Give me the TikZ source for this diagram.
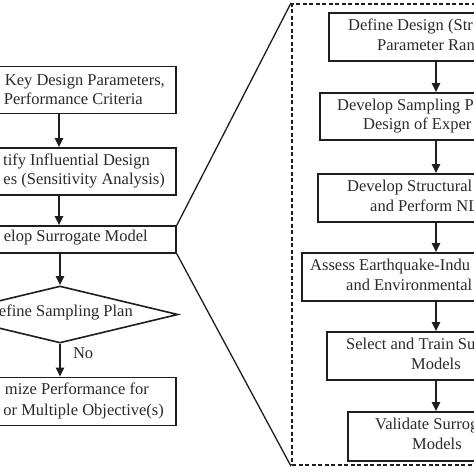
\documentclass[tikz,border=0pt]{standalone}
\usepackage{fontspec}
\setmainfont{Liberation Serif}
\usetikzlibrary{arrows.meta,shapes.geometric}
\definecolor{ink}{HTML}{1E1E1E}
\definecolor{txt}{HTML}{2A2A2A}
\tikzset{
  box/.style={draw=ink, line width=1.6pt, fill=white, inner sep=0pt},
  choice/.style={draw=ink, line width=1.6pt, shape=diamond, inner sep=0pt},
  lbl/.style={font=\fontsize{16.5}{20}\selectfont, text=txt, inner sep=0pt},
  arr/.style={draw=ink, line width=2pt, -{Triangle[length=9pt,width=8pt]}},
  zoomline/.style={draw=ink, line width=1.3pt},
  dashbox/.style={draw=ink, line width=2.2pt, dash pattern=on 4pt off 2.5pt}
}
\begin{document}
\begin{tikzpicture}[x=1pt,y=-1pt]
\clip (0,0) rectangle (474,474);
\fill[white] (0,0) rectangle (474,474);
% zoom frame
\node[dashbox, minimum width=300pt, minimum height=461pt, anchor=north west, inner sep=0pt] (frame) at (291,3) {};
% left column
\node[box, minimum width=234pt, minimum height=47pt] (b1) at (59,90) {};
\node[box, minimum width=234pt, minimum height=47pt] (b2) at (59,171.5) {};
\node[box, minimum width=234pt, minimum height=27pt] (b3) at (59,239.5) {};
\node[choice, minimum width=236pt, minimum height=57pt] (dia) at (60,314.5) {};
\node[box, minimum width=234pt, minimum height=48pt] (b4) at (59,401.5) {};
\node[lbl, anchor=mid east] (t1a) at (165,83) {Key Design Parameters,};
\node[lbl, anchor=mid east] (t1b) at (143,102) {Performance Criteria};
\node[lbl, anchor=mid east] (t2a) at (150,163) {tify Influential Design};
\node[lbl, anchor=mid east] (t2b) at (165,182) {es (Sensitivity Analysis)};
\node[lbl, anchor=mid east] (t3) at (148,239) {elop Surrogate Model};
\node[lbl, anchor=mid east] (t4) at (133,314) {efine Sampling Plan};
\node[lbl, anchor=mid east] (t5a) at (149,392) {mize Performance for};
\node[lbl, anchor=mid east] (t5b) at (164,413) {or Multiple Objective(s)};
\draw[arr] (b1.south) -- (b2.north);
\draw[arr] (b2.south) -- (b3.north);
\draw[arr] (b3.south -| dia.north) -- (dia.north);
\draw[arr] (dia.south) -- node[lbl, anchor=west, pos=0.3, xshift=12pt] {No} (b4.north -| dia.south);
% zoom lines
\draw[zoomline] (b3.north east) -- (frame.north west);
\draw[zoomline] (b3.south east) -- (frame.south west);
% right column
\node[box, minimum width=214pt, minimum height=48pt] (r1) at (436,37) {};
\node[box, minimum width=232pt, minimum height=47pt] (r2) at (436,116.5) {};
\node[box, minimum width=236pt, minimum height=48pt] (r3) at (436,198) {};
\node[box, minimum width=268pt, minimum height=48pt] (r4) at (436,277) {};
\node[box, minimum width=218pt, minimum height=48pt] (r5) at (436,356) {};
\node[box, minimum width=176pt, minimum height=49pt] (r6) at (436,436.5) {};
\node[lbl, anchor=mid west] (s1a) at (348,28) {Define Design (Str};
\node[lbl, anchor=mid west] (s1b) at (377,48) {Parameter Ran};
\node[lbl, anchor=mid west] (s2a) at (337,108) {Develop Sampling P};
\node[lbl, anchor=mid west] (s2b) at (363,127) {Design of Exper};
\node[lbl, anchor=mid west] (s3a) at (347,189) {Develop Structural};
\node[lbl, anchor=mid west] (s3b) at (370,209) {and Perform NL};
\node[lbl, anchor=mid west] (s4a) at (310,268) {Assess Earthquake-Indu};
\node[lbl, anchor=mid west] (s4b) at (346,288) {and Environmental};
\node[lbl, anchor=mid west] (s5a) at (346,347) {Select and Train Su};
\node[lbl, anchor=mid west] (s5b) at (411,367) {Models};
\node[lbl, anchor=mid west] (s6a) at (375,427) {Validate Surrog};
\node[lbl, anchor=mid west] (s6b) at (412,447) {Models};
\draw[arr] (r1.south) -- (r2.north);
\draw[arr] (r2.south) -- (r3.north);
\draw[arr] (r3.south) -- (r4.north);
\draw[arr] (r4.south) -- (r5.north);
\draw[arr] (r5.south) -- (r6.north);
\end{tikzpicture}
\end{document}
